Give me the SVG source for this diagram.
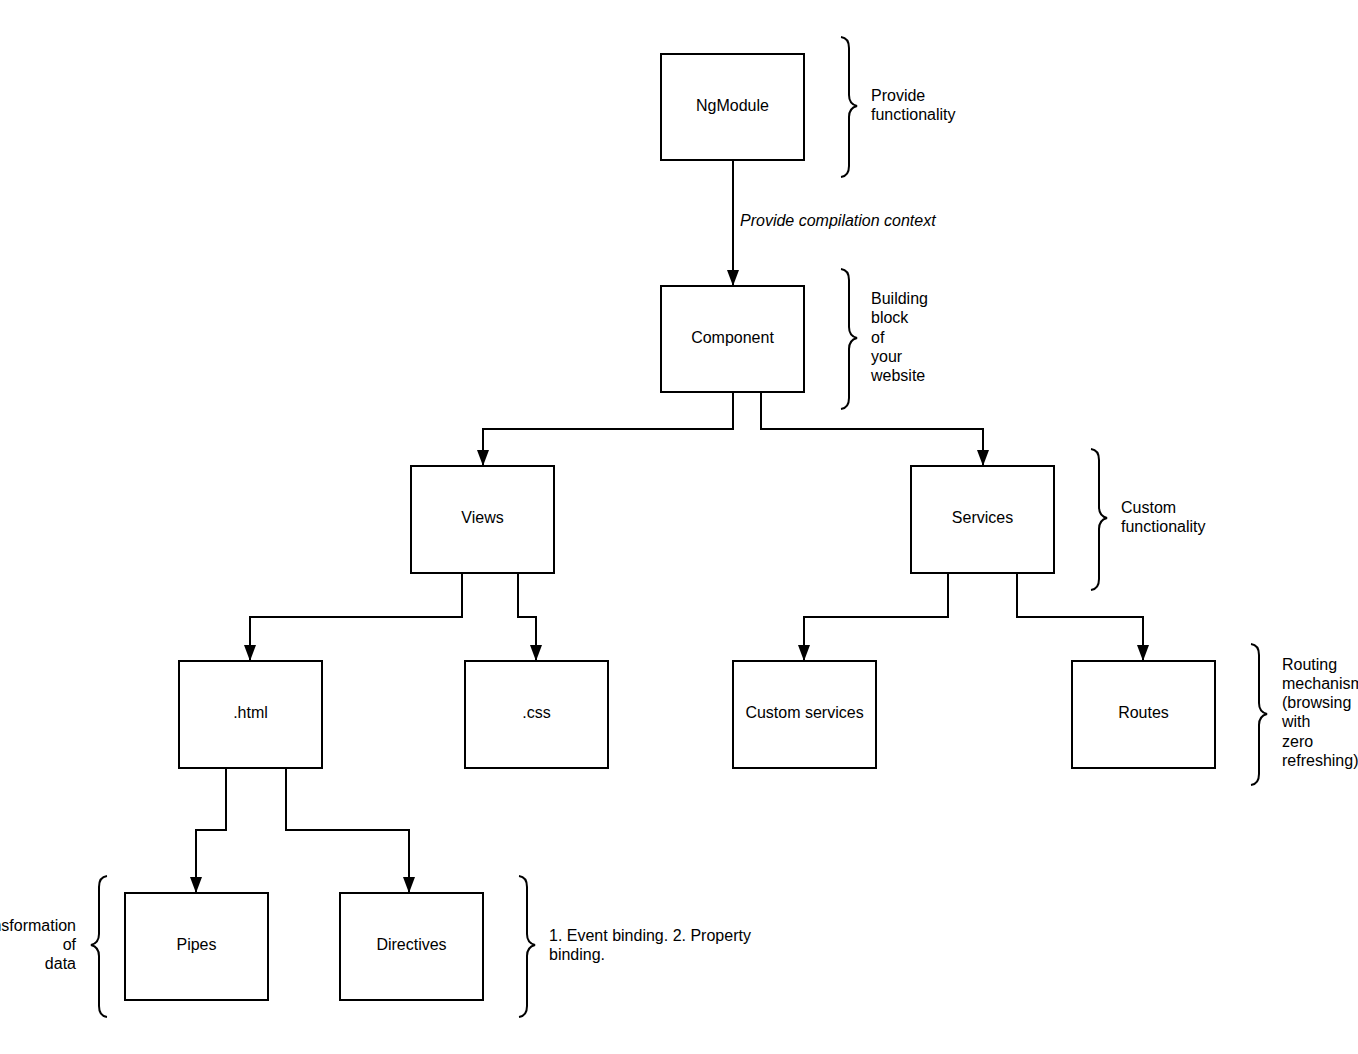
<svg xmlns="http://www.w3.org/2000/svg" width="1358" height="1054" viewBox="0 0 1358 1054">
<style>
.box{fill:#fff;stroke:#000;stroke-width:2}
.lbl{font-family:"Liberation Sans",Arial,sans-serif;font-size:16px;fill:#000;text-anchor:middle}
.note{font-family:"Liberation Sans",Arial,sans-serif;font-size:16px;fill:#000}
.edge{fill:none;stroke:#000;stroke-width:2}
.brace{fill:none;stroke:#000;stroke-width:2}
</style>
<defs>
<marker id="arr" markerWidth="16" markerHeight="12" refX="15" refY="6" orient="auto" markerUnits="userSpaceOnUse" viewBox="0 0 16 12">
<path d="M0,0 L16,6 L0,12 Z" fill="#000"/>
</marker>
</defs>
<rect width="1358" height="1054" fill="#fff"/>
<g id="connectors">
<path class="edge" d="M733,160 V285" marker-end="url(#arr)"/>
<path class="edge" d="M733,392 V429 H483 V465" marker-end="url(#arr)"/>
<path class="edge" d="M761,392 V429 H983 V465" marker-end="url(#arr)"/>
<path class="edge" d="M462,573 V617 H250 V660" marker-end="url(#arr)"/>
<path class="edge" d="M518,573 V617 H536 V660" marker-end="url(#arr)"/>
<path class="edge" d="M948,573 V617 H804 V660" marker-end="url(#arr)"/>
<path class="edge" d="M1017,573 V617 H1143 V660" marker-end="url(#arr)"/>
<path class="edge" d="M226,768 V830 H196 V892" marker-end="url(#arr)"/>
<path class="edge" d="M286,768 V830 H409 V892" marker-end="url(#arr)"/>
<text class="note" x="740" y="226" font-style="italic">Provide compilation context</text>
</g>
<g id="ngmodule"><rect class="box" x="661" y="54" width="143" height="106"/><text class="lbl" x="732.5" y="111">NgModule</text></g>
<g id="component"><rect class="box" x="661" y="286" width="143" height="106"/><text class="lbl" x="732.5" y="343">Component</text></g>
<g id="views"><rect class="box" x="411" y="466" width="143" height="107"/><text class="lbl" x="482.5" y="523">Views</text></g>
<g id="services"><rect class="box" x="911" y="466" width="143" height="107"/><text class="lbl" x="982.5" y="523">Services</text></g>
<g id="html"><rect class="box" x="179" y="661" width="143" height="107"/><text class="lbl" x="250.5" y="718">.html</text></g>
<g id="css"><rect class="box" x="465" y="661" width="143" height="107"/><text class="lbl" x="536.5" y="718">.css</text></g>
<g id="customservices"><rect class="box" x="733" y="661" width="143" height="107"/><text class="lbl" x="804.5" y="718">Custom services</text></g>
<g id="routes"><rect class="box" x="1072" y="661" width="143" height="107"/><text class="lbl" x="1143.5" y="718">Routes</text></g>
<g id="pipes"><rect class="box" x="125" y="893" width="143" height="107"/><text class="lbl" x="196.5" y="950">Pipes</text></g>
<g id="directives"><rect class="box" x="340" y="893" width="143" height="107"/><text class="lbl" x="411.5" y="950">Directives</text></g>
<g id="note-ngmodule">
<path class="brace" d="M841,37 Q849,38 849,48 V95 Q849,104 857,106 Q849,108 849,117 V166 Q849,176 841,177"/>
<text class="note" x="871" y="101">Provide</text>
<text class="note" x="871" y="120">functionality</text>
</g>
<g id="note-component">
<path class="brace" d="M841,269 Q849,270 849,280 V327 Q849,336 857,338 Q849,340 849,349 V398 Q849,408 841,409"/>
<text class="note" x="871" y="304">Building</text>
<text class="note" x="871" y="323">block</text>
<text class="note" x="871" y="343">of</text>
<text class="note" x="871" y="362">your</text>
<text class="note" x="871" y="381">website</text>
</g>
<g id="note-services">
<path class="brace" d="M1091,449 Q1099,450 1099,460 V507 Q1099,516 1107,518 Q1099,520 1099,529 V579 Q1099,589 1091,590"/>
<text class="note" x="1121" y="513">Custom</text>
<text class="note" x="1121" y="532">functionality</text>
</g>
<g id="note-routes">
<path class="brace" d="M1251,644 Q1259,645 1259,655 V703 Q1259,712 1267,714 Q1259,716 1259,725 V774 Q1259,784 1251,785"/>
<text class="note" x="1282" y="670">Routing</text>
<text class="note" x="1282" y="689">mechanism</text>
<text class="note" x="1282" y="708">(browsing</text>
<text class="note" x="1282" y="727">with</text>
<text class="note" x="1282" y="747">zero</text>
<text class="note" x="1282" y="766">refreshing)</text>
</g>
<g id="note-pipes">
<path class="brace" d="M107,876 Q99,877 99,887 V934 Q99,943 91,945 Q99,947 99,956 V1006 Q99,1016 107,1017"/>
<text class="note" x="76" y="931" text-anchor="end">Transformation</text>
<text class="note" x="76" y="950" text-anchor="end">of</text>
<text class="note" x="76" y="969" text-anchor="end">data</text>
</g>
<g id="note-directives">
<path class="brace" d="M519,876 Q527,877 527,887 V934 Q527,943 535,945 Q527,947 527,956 V1006 Q527,1016 519,1017"/>
<text class="note" x="549" y="941">1. Event binding. 2. Property</text>
<text class="note" x="549" y="960">binding.</text>
</g>
</svg>
